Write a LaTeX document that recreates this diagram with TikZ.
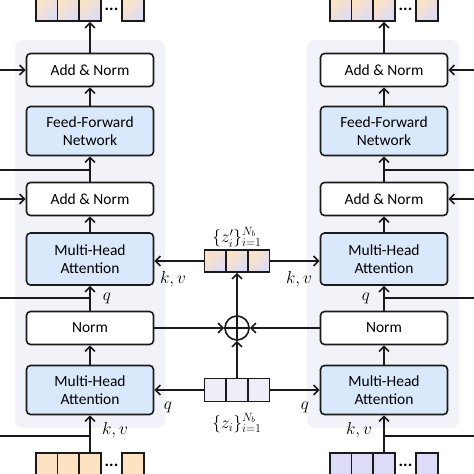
\documentclass[tikz,border=0pt]{standalone}
\usepackage{fontspec}
\setmainfont{Carlito}
\usetikzlibrary{arrows.meta}
\definecolor{boxblue}{HTML}{DAE8FB}
\definecolor{panel}{HTML}{F2F3F8}
\definecolor{peach}{HTML}{FDE3C2}
\definecolor{lav}{HTML}{DCDCF6}
\definecolor{zlight}{HTML}{EEEEF8}
\definecolor{edge}{HTML}{1A1A1A}
\tikzset{
 blk/.style={draw=edge, line width=1.6pt, rounded corners=4pt, minimum width=127pt, minimum height=33pt, align=center, font=\fontsize{15.5}{17.5}\selectfont, inner sep=0pt},
 wbox/.style={blk, fill=white},
 bbox/.style={blk, fill=boxblue, minimum height=49pt},
 conn/.style={line width=1.6pt, draw=edge},
 arr/.style={conn, -{Straight Barb[length=5pt,width=10pt]}},
 cell/.style={draw=edge, line width=1.6pt, minimum width=21.6pt, minimum height=24pt, inner sep=0pt},
 gcell/.style={cell, top color=peach, bottom color=lav, shading angle=45},
 pcell/.style={cell, fill=peach},
 lcell/.style={cell, fill=lav},
 zcell/.style={cell, fill=zlight, minimum height=23pt},
 lbl/.style={font=\fontsize{17}{19}\selectfont, inner sep=0pt},
 dotsnode/.style={font=\fontsize{17}{19}\selectfont\bfseries, inner sep=0pt, anchor=base}
}
\begin{document}
\begin{tikzpicture}[x=1pt,y=1pt]
\useasboundingbox (0,0) rectangle (474,474);
% panels
\fill[panel, rounded corners=8pt] (15,46) rectangle (165,434);
\fill[panel, rounded corners=8pt] (307,46) rectangle (459,434);

% left column
\node[wbox] (anL1) at (90,404) {Add \& Norm};
\node[bbox] (ffnL) at (90,343) {Feed-Forward\\Network};
\node[wbox] (anL2) at (90,275) {Add \& Norm};
\node[bbox, minimum height=52pt] (mhaLt) at (90,215) {Multi-Head\\Attention};
\node[wbox] (normL) at (90,146) {Norm};
\node[bbox] (mhaLb) at (90,84) {Multi-Head\\Attention};

% right column
\node[wbox] (anR1) at (384,404) {Add \& Norm};
\node[bbox] (ffnR) at (384,343) {Feed-Forward\\Network};
\node[wbox] (anR2) at (384,275) {Add \& Norm};
\node[bbox, minimum height=52pt] (mhaRt) at (384,215) {Multi-Head\\Attention};
\node[wbox] (normR) at (384,146) {Norm};
\node[bbox] (mhaRb) at (384,84) {Multi-Head\\Attention};

% token rows: top left
\node[gcell] (tL1) at (46.8,465) {};
\node[gcell] (tL2) at (68.4,465) {};
\node[gcell] (tL3) at (90,465) {};
\node[gcell] (tL4) at (133,465) {};
\node[dotsnode] (tLd) at (111.5,463) {...};
% top right
\node[gcell] (tR1) at (340.8,465) {};
\node[gcell] (tR2) at (362.4,465) {};
\node[gcell] (tR3) at (384,465) {};
\node[gcell] (tR4) at (427,465) {};
\node[dotsnode] (tRd) at (405.5,463) {...};
% bottom left
\node[pcell] (bL1) at (46.8,9) {};
\node[pcell] (bL2) at (68.4,9) {};
\node[pcell] (bL3) at (90,9) {};
\node[pcell] (bL4) at (133,9) {};
\node[dotsnode] (bLd) at (111.5,7) {...};
% bottom right
\node[lcell] (bR1) at (340.8,9) {};
\node[lcell] (bR2) at (362.4,9) {};
\node[lcell] (bR3) at (384,9) {};
\node[lcell] (bR4) at (427,9) {};
\node[dotsnode] (bRd) at (405.5,7) {...};

% center tokens
\node[gcell, minimum height=22pt] (zp1) at (215.4,213) {};
\node[gcell, minimum height=22pt] (zp2) at (237,213) {};
\node[gcell, minimum height=22pt] (zp3) at (258.6,213) {};
\node[zcell] (z1) at (215.4,84) {};
\node[zcell] (z2) at (237,84) {};
\node[zcell] (z3) at (258.6,84) {};
\node[circle, draw=edge, line width=1.6pt, minimum size=24pt, inner sep=0pt] (plus) at (237,146) {};
\draw[conn] (plus.north) -- (plus.south) (plus.west) -- (plus.east);

\node[lbl] (zpl) at (237,237) {$\{z'_i\}_{i=1}^{N_b}$};
\node[lbl] (zl) at (237,51) {$\{z_i\}_{i=1}^{N_b}$};

% edge coordinates
\coordinate (eL1) at (0,404); \coordinate (eR1) at (474,404);
\coordinate (eL2) at (0,304); \coordinate (eR2) at (474,304);
\coordinate (eL3) at (0,275); \coordinate (eR3) at (474,275);
\coordinate (eL4) at (0,176); \coordinate (eR4) at (474,176);
\coordinate (eL5) at (0,38);  \coordinate (eR5) at (474,38);
\coordinate (jL2) at (90,304); \coordinate (jR2) at (384,304);
\coordinate (jL4) at (90,176); \coordinate (jR4) at (384,176);
\coordinate (jL5) at (90,38);  \coordinate (jR5) at (384,38);

% left column connectors
\draw[arr] (eL1) -- (anL1.west);
\draw[conn] (eL2) -- (jL2);
\draw[arr] (eL3) -- (anL2.west);
\draw[conn] (eL4) -- (jL4);
\draw[conn] (eL5) -- (jL5);
\draw[arr] (anL1.north) -- (tL3.south);
\draw[arr] (ffnL.north) -- (anL1.south);
\draw[arr] (anL2.north) -- (ffnL.south);
\draw[arr] (mhaLt.north) -- (anL2.south);
\draw[arr] (normL.north) -- (mhaLt.south);
\draw[arr] (mhaLb.north) -- (normL.south);
\draw[arr] (bL3.north) -- (mhaLb.south);

% right column connectors
\draw[arr] (eR1) -- (anR1.east);
\draw[conn] (eR2) -- (jR2);
\draw[arr] (eR3) -- (anR2.east);
\draw[conn] (eR4) -- (jR4);
\draw[conn] (eR5) -- (jR5);
\draw[arr] (anR1.north) -- (tR3.south);
\draw[arr] (ffnR.north) -- (anR1.south);
\draw[arr] (anR2.north) -- (ffnR.south);
\draw[arr] (mhaRt.north) -- (anR2.south);
\draw[arr] (normR.north) -- (mhaRt.south);
\draw[arr] (mhaRb.north) -- (normR.south);
\draw[arr] (bR3.north) -- (mhaRb.south);

% center connectors
\draw[arr] (zp1.west) -- (mhaLt.east |- zp1.west);
\draw[arr] (zp3.east) -- (mhaRt.west |- zp3.east);
\draw[arr] (z1.west) -- (mhaLb.east);
\draw[arr] (z3.east) -- (mhaRb.west);
\draw[arr] (normL.east) -- (plus.west);
\draw[arr] (normR.west) -- (plus.east);
\draw[arr] (z2.north) -- (plus.south);
\draw[arr] (plus.north) -- (zp2.south);

% labels
\node[lbl] (kvLt) at (173,195) {$k,v$};
\node[lbl] (kvRt) at (299,195) {$k,v$};
\node[lbl] (qLt) at (107,176) {$q$};
\node[lbl] (qRt) at (366,176) {$q$};
\node[lbl] (qLb) at (168,67) {$q$};
\node[lbl] (qRb) at (305,67) {$q$};
\node[lbl] (kvLb) at (115,44) {$k,v$};
\node[lbl] (kvRb) at (359,44) {$k,v$};
\end{tikzpicture}
\end{document}
